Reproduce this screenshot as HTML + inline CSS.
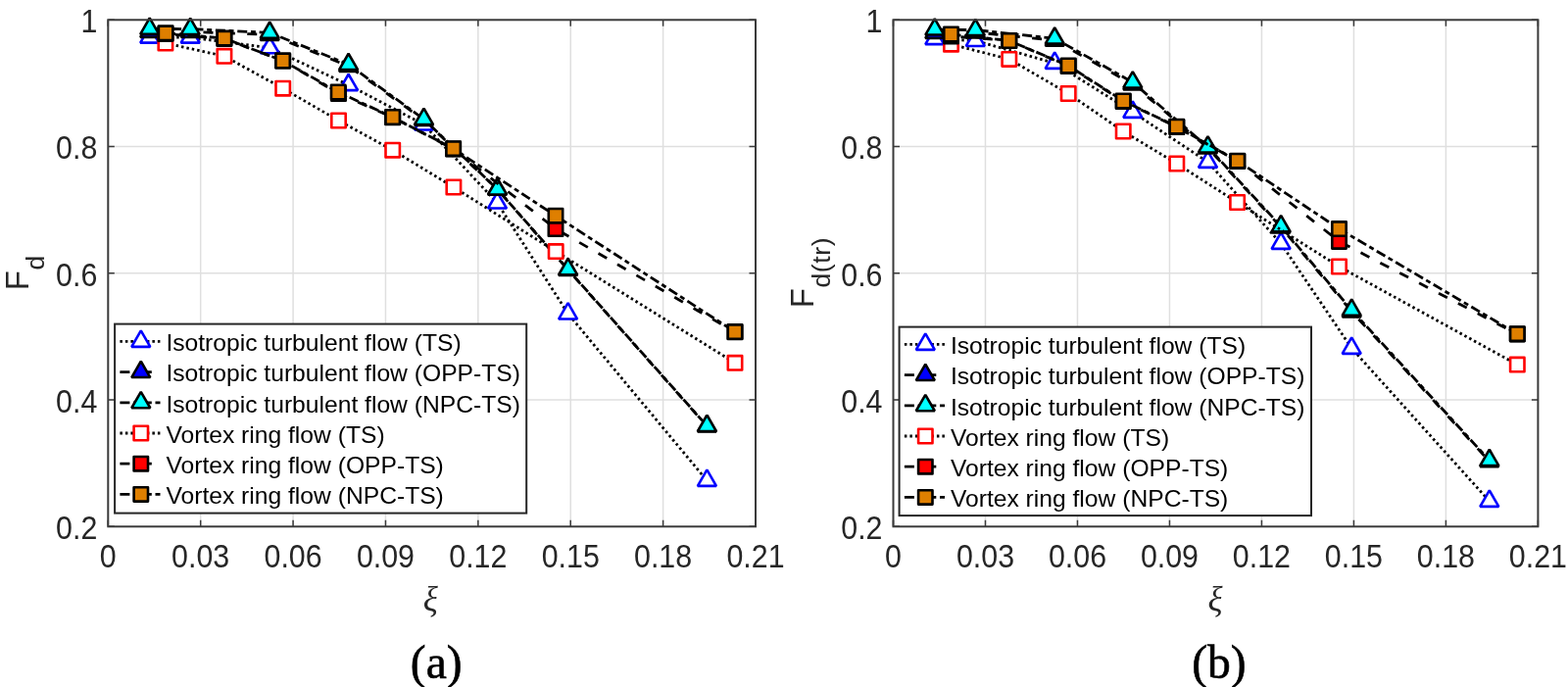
<!DOCTYPE html>
<html><head><meta charset="utf-8"><title>Fd vs xi</title>
<style>html,body{margin:0;padding:0;background:#fff;}svg{display:block;}</style></head>
<body><svg width="1600" height="701" viewBox="0 0 1600 701">
<rect width="1600" height="701" fill="#fff"/>
<path d="M204.69 20.3V537.3M299.07 20.3V537.3M393.46 20.3V537.3M487.84 20.3V537.3M582.23 20.3V537.3M676.61 20.3V537.3M110.3 408.05H771M110.3 278.8H771M110.3 149.55H771" stroke="#dfdfdf" stroke-width="1.5" fill="none"/>
<path d="M152.7 38.2L194.2 38.2L275.2 48.8L355.6 86.7L432.5 127.1L507.5 207.1L579.6 320.1L721.4 490.4" fill="none" stroke="#000" stroke-width="2.8" stroke-dasharray="2.5 3.0" stroke-dashoffset="0"/>
<path d="M152.7 27.27L162.2 43.67L143.2 43.67Z" fill="#fff" stroke="#0000ff" stroke-width="2.6" stroke-linejoin="bevel"/>
<path d="M194.2 27.27L203.7 43.67L184.7 43.67Z" fill="#fff" stroke="#0000ff" stroke-width="2.6" stroke-linejoin="bevel"/>
<path d="M275.2 37.87L284.7 54.27L265.7 54.27Z" fill="#fff" stroke="#0000ff" stroke-width="2.6" stroke-linejoin="bevel"/>
<path d="M355.6 75.77L365.1 92.17L346.1 92.17Z" fill="#fff" stroke="#0000ff" stroke-width="2.6" stroke-linejoin="bevel"/>
<path d="M432.5 116.17L442 132.57L423 132.57Z" fill="#fff" stroke="#0000ff" stroke-width="2.6" stroke-linejoin="bevel"/>
<path d="M507.5 196.17L517 212.57L498 212.57Z" fill="#fff" stroke="#0000ff" stroke-width="2.6" stroke-linejoin="bevel"/>
<path d="M579.6 309.17L589.1 325.57L570.1 325.57Z" fill="#fff" stroke="#0000ff" stroke-width="2.6" stroke-linejoin="bevel"/>
<path d="M721.4 479.47L730.9 495.87L711.9 495.87Z" fill="#fff" stroke="#0000ff" stroke-width="2.6" stroke-linejoin="bevel"/>
<path d="M152.7 32.4L194.2 32.5L275.2 35.4L355.6 67.4L432.5 122.4L507.5 193.2L579.6 275.4L721.4 434.9" fill="none" stroke="#000" stroke-width="2.8" stroke-dasharray="10 12.4" stroke-dashoffset="12.4"/>
<path d="M152.7 21.47L162.2 37.87L143.2 37.87Z" fill="#0000ff" stroke="#000" stroke-width="2.6" stroke-linejoin="bevel"/>
<path d="M194.2 21.57L203.7 37.97L184.7 37.97Z" fill="#0000ff" stroke="#000" stroke-width="2.6" stroke-linejoin="bevel"/>
<path d="M275.2 24.47L284.7 40.87L265.7 40.87Z" fill="#0000ff" stroke="#000" stroke-width="2.6" stroke-linejoin="bevel"/>
<path d="M355.6 56.47L365.1 72.87L346.1 72.87Z" fill="#0000ff" stroke="#000" stroke-width="2.6" stroke-linejoin="bevel"/>
<path d="M432.5 111.47L442 127.87L423 127.87Z" fill="#0000ff" stroke="#000" stroke-width="2.6" stroke-linejoin="bevel"/>
<path d="M507.5 182.27L517 198.67L498 198.67Z" fill="#0000ff" stroke="#000" stroke-width="2.6" stroke-linejoin="bevel"/>
<path d="M579.6 264.47L589.1 280.87L570.1 280.87Z" fill="#0000ff" stroke="#000" stroke-width="2.6" stroke-linejoin="bevel"/>
<path d="M721.4 423.97L730.9 440.37L711.9 440.37Z" fill="#0000ff" stroke="#000" stroke-width="2.6" stroke-linejoin="bevel"/>
<path d="M152.7 29.4L194.2 29.6L275.2 33.4L355.6 65.7L432.5 121.6L507.5 193L579.6 274.9L721.4 434.6" fill="none" stroke="#000" stroke-width="2.8" stroke-dasharray="10 3.7 5 3.7" stroke-dashoffset="0"/>
<path d="M152.7 18.47L162.2 34.87L143.2 34.87Z" fill="#00ffff" stroke="#000" stroke-width="2.6" stroke-linejoin="bevel"/>
<path d="M194.2 18.67L203.7 35.07L184.7 35.07Z" fill="#00ffff" stroke="#000" stroke-width="2.6" stroke-linejoin="bevel"/>
<path d="M275.2 22.47L284.7 38.87L265.7 38.87Z" fill="#00ffff" stroke="#000" stroke-width="2.6" stroke-linejoin="bevel"/>
<path d="M355.6 54.77L365.1 71.17L346.1 71.17Z" fill="#00ffff" stroke="#000" stroke-width="2.6" stroke-linejoin="bevel"/>
<path d="M432.5 110.67L442 127.07L423 127.07Z" fill="#00ffff" stroke="#000" stroke-width="2.6" stroke-linejoin="bevel"/>
<path d="M507.5 182.07L517 198.47L498 198.47Z" fill="#00ffff" stroke="#000" stroke-width="2.6" stroke-linejoin="bevel"/>
<path d="M579.6 263.97L589.1 280.37L570.1 280.37Z" fill="#00ffff" stroke="#000" stroke-width="2.6" stroke-linejoin="bevel"/>
<path d="M721.4 423.67L730.9 440.07L711.9 440.07Z" fill="#00ffff" stroke="#000" stroke-width="2.6" stroke-linejoin="bevel"/>
<path d="M168.9 44L228.9 57.3L288.7 90.2L345.5 123L400.7 153.2L462.9 191L567.2 256.6L750 370.3" fill="none" stroke="#000" stroke-width="2.8" stroke-dasharray="2.5 3.0" stroke-dashoffset="0"/>
<rect x="161.7" y="36.8" width="14.4" height="14.4" fill="#fff" stroke="#ff0000" stroke-width="2.6" stroke-linejoin="round"/>
<rect x="221.7" y="50.1" width="14.4" height="14.4" fill="#fff" stroke="#ff0000" stroke-width="2.6" stroke-linejoin="round"/>
<rect x="281.5" y="83" width="14.4" height="14.4" fill="#fff" stroke="#ff0000" stroke-width="2.6" stroke-linejoin="round"/>
<rect x="338.3" y="115.8" width="14.4" height="14.4" fill="#fff" stroke="#ff0000" stroke-width="2.6" stroke-linejoin="round"/>
<rect x="393.5" y="146" width="14.4" height="14.4" fill="#fff" stroke="#ff0000" stroke-width="2.6" stroke-linejoin="round"/>
<rect x="455.7" y="183.8" width="14.4" height="14.4" fill="#fff" stroke="#ff0000" stroke-width="2.6" stroke-linejoin="round"/>
<rect x="560" y="249.4" width="14.4" height="14.4" fill="#fff" stroke="#ff0000" stroke-width="2.6" stroke-linejoin="round"/>
<rect x="742.8" y="363.1" width="14.4" height="14.4" fill="#fff" stroke="#ff0000" stroke-width="2.6" stroke-linejoin="round"/>
<path d="M168.9 34.6L228.9 39.6L288.7 62L345.5 95.5L400.7 119.8L462.6 152L567 233.5L750 338.8" fill="none" stroke="#000" stroke-width="2.8" stroke-dasharray="10 12.4" stroke-dashoffset="12.4"/>
<rect x="161.7" y="27.4" width="14.4" height="14.4" fill="#ff0000" stroke="#000" stroke-width="2.6" stroke-linejoin="round"/>
<rect x="221.7" y="32.4" width="14.4" height="14.4" fill="#ff0000" stroke="#000" stroke-width="2.6" stroke-linejoin="round"/>
<rect x="281.5" y="54.8" width="14.4" height="14.4" fill="#ff0000" stroke="#000" stroke-width="2.6" stroke-linejoin="round"/>
<rect x="338.3" y="88.3" width="14.4" height="14.4" fill="#ff0000" stroke="#000" stroke-width="2.6" stroke-linejoin="round"/>
<rect x="393.5" y="112.6" width="14.4" height="14.4" fill="#ff0000" stroke="#000" stroke-width="2.6" stroke-linejoin="round"/>
<rect x="455.4" y="144.8" width="14.4" height="14.4" fill="#ff0000" stroke="#000" stroke-width="2.6" stroke-linejoin="round"/>
<rect x="559.8" y="226.3" width="14.4" height="14.4" fill="#ff0000" stroke="#000" stroke-width="2.6" stroke-linejoin="round"/>
<rect x="742.8" y="331.6" width="14.4" height="14.4" fill="#ff0000" stroke="#000" stroke-width="2.6" stroke-linejoin="round"/>
<path d="M169.1 33.8L228.9 39.1L288.6 62L345.2 94L400.7 119.5L462.6 151.7L567 220.2L750 338.6" fill="none" stroke="#000" stroke-width="2.8" stroke-dasharray="10 3.7 5 3.7" stroke-dashoffset="0"/>
<rect x="161.9" y="26.6" width="14.4" height="14.4" fill="#df7f00" stroke="#000" stroke-width="2.6" stroke-linejoin="round"/>
<rect x="221.7" y="31.9" width="14.4" height="14.4" fill="#df7f00" stroke="#000" stroke-width="2.6" stroke-linejoin="round"/>
<rect x="281.4" y="54.8" width="14.4" height="14.4" fill="#df7f00" stroke="#000" stroke-width="2.6" stroke-linejoin="round"/>
<rect x="338" y="86.8" width="14.4" height="14.4" fill="#df7f00" stroke="#000" stroke-width="2.6" stroke-linejoin="round"/>
<rect x="393.5" y="112.3" width="14.4" height="14.4" fill="#df7f00" stroke="#000" stroke-width="2.6" stroke-linejoin="round"/>
<rect x="455.4" y="144.5" width="14.4" height="14.4" fill="#df7f00" stroke="#000" stroke-width="2.6" stroke-linejoin="round"/>
<rect x="559.8" y="213" width="14.4" height="14.4" fill="#df7f00" stroke="#000" stroke-width="2.6" stroke-linejoin="round"/>
<rect x="742.8" y="331.4" width="14.4" height="14.4" fill="#df7f00" stroke="#000" stroke-width="2.6" stroke-linejoin="round"/>
<path d="M110.3 537.3v-6.5M110.3 20.3v6.5M204.69 537.3v-6.5M204.69 20.3v6.5M299.07 537.3v-6.5M299.07 20.3v6.5M393.46 537.3v-6.5M393.46 20.3v6.5M487.84 537.3v-6.5M487.84 20.3v6.5M582.23 537.3v-6.5M582.23 20.3v6.5M676.61 537.3v-6.5M676.61 20.3v6.5M771 537.3v-6.5M771 20.3v6.5M110.3 537.3h6.5M771 537.3h-6.5M110.3 408.05h6.5M771 408.05h-6.5M110.3 278.8h6.5M771 278.8h-6.5M110.3 149.55h6.5M771 149.55h-6.5M110.3 20.3h6.5M771 20.3h-6.5" stroke="#3a3a3a" stroke-width="1.5" fill="none"/>
<rect x="110.3" y="20.3" width="660.7" height="517" fill="none" stroke="#3a3a3a" stroke-width="2"/>
<g font-family="Liberation Sans, Arial, sans-serif" font-size="30.4" fill="#262626"><text transform="translate(110.3 579) scale(1 1.083)" text-anchor="middle">0</text><text transform="translate(204.69 579) scale(1 1.083)" text-anchor="middle">0.03</text><text transform="translate(299.07 579) scale(1 1.083)" text-anchor="middle">0.06</text><text transform="translate(393.46 579) scale(1 1.083)" text-anchor="middle">0.09</text><text transform="translate(487.84 579) scale(1 1.083)" text-anchor="middle">0.12</text><text transform="translate(582.23 579) scale(1 1.083)" text-anchor="middle">0.15</text><text transform="translate(676.61 579) scale(1 1.083)" text-anchor="middle">0.18</text><text transform="translate(771 579) scale(1 1.083)" text-anchor="middle">0.21</text><text transform="translate(99.3 550.1) scale(1 1.083)" text-anchor="end">0.2</text><text transform="translate(99.3 420.85) scale(1 1.083)" text-anchor="end">0.4</text><text transform="translate(99.3 291.6) scale(1 1.083)" text-anchor="end">0.6</text><text transform="translate(99.3 162.35) scale(1 1.083)" text-anchor="end">0.8</text><text transform="translate(99.3 33.1) scale(1 1.083)" text-anchor="end">1</text></g>
<text x="439.25" y="623" font-family="Liberation Serif, serif" font-style="italic" font-size="35" text-anchor="middle" fill="#262626">&#958;</text>
<g font-family="Liberation Sans, Arial, sans-serif" fill="#262626"><text transform="translate(28.9 296.2) rotate(-90)" font-size="33">F</text><text transform="translate(45.3 275.5) rotate(-90)" font-size="26.5">d</text></g>
<text x="445.2" y="692.3" font-family="Liberation Serif, serif" font-size="47.5" text-anchor="middle" fill="#000" stroke="#000" stroke-width="0.6">(a)</text>
<rect x="117.1" y="330.6" width="420.1" height="193" fill="#fff" stroke="#262626" stroke-width="2"/>
<path d="M122.4 348.4H165.1" stroke="#000" stroke-width="2.8" stroke-dasharray="2.5 3.0" fill="none"/>
<path d="M143.8 337.47L153.3 353.87L134.3 353.87Z" fill="#fff" stroke="#0000ff" stroke-width="2.6" stroke-linejoin="bevel"/>
<text x="169.4" y="358.2" font-family="Liberation Sans, Arial, sans-serif" font-size="24.65" fill="#000">Isotropic turbulent flow (TS)</text>
<path d="M122.4 379.6H165.1" stroke="#000" stroke-width="2.8" stroke-dasharray="10 12.4" fill="none"/>
<path d="M143.8 368.67L153.3 385.07L134.3 385.07Z" fill="#0000ff" stroke="#000" stroke-width="2.6" stroke-linejoin="bevel"/>
<text x="169.4" y="389.4" font-family="Liberation Sans, Arial, sans-serif" font-size="24.65" fill="#000">Isotropic turbulent flow (OPP-TS)</text>
<path d="M122.4 410.8H165.1" stroke="#000" stroke-width="2.8" stroke-dasharray="10 3.7 5 3.7" fill="none"/>
<path d="M143.8 399.87L153.3 416.27L134.3 416.27Z" fill="#00ffff" stroke="#000" stroke-width="2.6" stroke-linejoin="bevel"/>
<text x="169.4" y="420.6" font-family="Liberation Sans, Arial, sans-serif" font-size="24.65" fill="#000">Isotropic turbulent flow (NPC-TS)</text>
<path d="M122.4 442H165.1" stroke="#000" stroke-width="2.8" stroke-dasharray="2.5 3.0" fill="none"/>
<rect x="136.6" y="434.8" width="14.4" height="14.4" fill="#fff" stroke="#ff0000" stroke-width="2.6" stroke-linejoin="round"/>
<text x="169.4" y="451.8" font-family="Liberation Sans, Arial, sans-serif" font-size="24.65" fill="#000">Vortex ring flow (TS)</text>
<path d="M122.4 473.2H165.1" stroke="#000" stroke-width="2.8" stroke-dasharray="10 12.4" fill="none"/>
<rect x="136.6" y="466" width="14.4" height="14.4" fill="#ff0000" stroke="#000" stroke-width="2.6" stroke-linejoin="round"/>
<text x="169.4" y="483" font-family="Liberation Sans, Arial, sans-serif" font-size="24.65" fill="#000">Vortex ring flow (OPP-TS)</text>
<path d="M122.4 504.4H165.1" stroke="#000" stroke-width="2.8" stroke-dasharray="10 3.7 5 3.7" fill="none"/>
<rect x="136.6" y="497.2" width="14.4" height="14.4" fill="#df7f00" stroke="#000" stroke-width="2.6" stroke-linejoin="round"/>
<text x="169.4" y="514.2" font-family="Liberation Sans, Arial, sans-serif" font-size="24.65" fill="#000">Vortex ring flow (NPC-TS)</text>
<path d="M1005.49 20.3V537.3M1099.47 20.3V537.3M1193.46 20.3V537.3M1287.44 20.3V537.3M1381.43 20.3V537.3M1475.41 20.3V537.3M911.5 408.05H1569.4M911.5 278.8H1569.4M911.5 149.55H1569.4" stroke="#dfdfdf" stroke-width="1.5" fill="none"/>
<path d="M953.8 39.7L995.3 41.5L1076.2 64.4L1155.8 114.4L1232.5 165.4L1307.1 248.4L1379.2 355.4L1519.8 511.4" fill="none" stroke="#000" stroke-width="2.8" stroke-dasharray="2.5 3.0" stroke-dashoffset="0"/>
<path d="M953.8 28.77L963.3 45.17L944.3 45.17Z" fill="#fff" stroke="#0000ff" stroke-width="2.6" stroke-linejoin="bevel"/>
<path d="M995.3 30.57L1004.8 46.97L985.8 46.97Z" fill="#fff" stroke="#0000ff" stroke-width="2.6" stroke-linejoin="bevel"/>
<path d="M1076.2 53.47L1085.7 69.87L1066.7 69.87Z" fill="#fff" stroke="#0000ff" stroke-width="2.6" stroke-linejoin="bevel"/>
<path d="M1155.8 103.47L1165.3 119.87L1146.3 119.87Z" fill="#fff" stroke="#0000ff" stroke-width="2.6" stroke-linejoin="bevel"/>
<path d="M1232.5 154.47L1242 170.87L1223 170.87Z" fill="#fff" stroke="#0000ff" stroke-width="2.6" stroke-linejoin="bevel"/>
<path d="M1307.1 237.47L1316.6 253.87L1297.6 253.87Z" fill="#fff" stroke="#0000ff" stroke-width="2.6" stroke-linejoin="bevel"/>
<path d="M1379.2 344.47L1388.7 360.87L1369.7 360.87Z" fill="#fff" stroke="#0000ff" stroke-width="2.6" stroke-linejoin="bevel"/>
<path d="M1519.8 500.47L1529.3 516.87L1510.3 516.87Z" fill="#fff" stroke="#0000ff" stroke-width="2.6" stroke-linejoin="bevel"/>
<path d="M953.8 33.4L995.3 32.9L1076.2 41.2L1155.8 86L1232.5 151L1307.1 231.9L1379.2 317.9L1519.8 470.7" fill="none" stroke="#000" stroke-width="2.8" stroke-dasharray="10 12.4" stroke-dashoffset="12.4"/>
<path d="M953.8 22.47L963.3 38.87L944.3 38.87Z" fill="#0000ff" stroke="#000" stroke-width="2.6" stroke-linejoin="bevel"/>
<path d="M995.3 21.97L1004.8 38.37L985.8 38.37Z" fill="#0000ff" stroke="#000" stroke-width="2.6" stroke-linejoin="bevel"/>
<path d="M1076.2 30.27L1085.7 46.67L1066.7 46.67Z" fill="#0000ff" stroke="#000" stroke-width="2.6" stroke-linejoin="bevel"/>
<path d="M1155.8 75.07L1165.3 91.47L1146.3 91.47Z" fill="#0000ff" stroke="#000" stroke-width="2.6" stroke-linejoin="bevel"/>
<path d="M1232.5 140.07L1242 156.47L1223 156.47Z" fill="#0000ff" stroke="#000" stroke-width="2.6" stroke-linejoin="bevel"/>
<path d="M1307.1 220.97L1316.6 237.37L1297.6 237.37Z" fill="#0000ff" stroke="#000" stroke-width="2.6" stroke-linejoin="bevel"/>
<path d="M1379.2 306.97L1388.7 323.37L1369.7 323.37Z" fill="#0000ff" stroke="#000" stroke-width="2.6" stroke-linejoin="bevel"/>
<path d="M1519.8 459.77L1529.3 476.17L1510.3 476.17Z" fill="#0000ff" stroke="#000" stroke-width="2.6" stroke-linejoin="bevel"/>
<path d="M953.8 30.1L995.3 30.6L1076.2 39.2L1155.8 84L1232.5 150L1307.1 230.9L1379.2 316.4L1519.8 469.7" fill="none" stroke="#000" stroke-width="2.8" stroke-dasharray="10 3.7 5 3.7" stroke-dashoffset="0"/>
<path d="M953.8 19.17L963.3 35.57L944.3 35.57Z" fill="#00ffff" stroke="#000" stroke-width="2.6" stroke-linejoin="bevel"/>
<path d="M995.3 19.67L1004.8 36.07L985.8 36.07Z" fill="#00ffff" stroke="#000" stroke-width="2.6" stroke-linejoin="bevel"/>
<path d="M1076.2 28.27L1085.7 44.67L1066.7 44.67Z" fill="#00ffff" stroke="#000" stroke-width="2.6" stroke-linejoin="bevel"/>
<path d="M1155.8 73.07L1165.3 89.47L1146.3 89.47Z" fill="#00ffff" stroke="#000" stroke-width="2.6" stroke-linejoin="bevel"/>
<path d="M1232.5 139.07L1242 155.47L1223 155.47Z" fill="#00ffff" stroke="#000" stroke-width="2.6" stroke-linejoin="bevel"/>
<path d="M1307.1 219.97L1316.6 236.37L1297.6 236.37Z" fill="#00ffff" stroke="#000" stroke-width="2.6" stroke-linejoin="bevel"/>
<path d="M1379.2 305.47L1388.7 321.87L1369.7 321.87Z" fill="#00ffff" stroke="#000" stroke-width="2.6" stroke-linejoin="bevel"/>
<path d="M1519.8 458.77L1529.3 475.17L1510.3 475.17Z" fill="#00ffff" stroke="#000" stroke-width="2.6" stroke-linejoin="bevel"/>
<path d="M970.5 45.2L1029.8 60.4L1090.2 95.5L1146.2 134L1200.8 167L1262.6 206.5L1366.5 272L1548.3 372.1" fill="none" stroke="#000" stroke-width="2.8" stroke-dasharray="2.5 3.0" stroke-dashoffset="0"/>
<rect x="963.3" y="38" width="14.4" height="14.4" fill="#fff" stroke="#ff0000" stroke-width="2.6" stroke-linejoin="round"/>
<rect x="1022.6" y="53.2" width="14.4" height="14.4" fill="#fff" stroke="#ff0000" stroke-width="2.6" stroke-linejoin="round"/>
<rect x="1083" y="88.3" width="14.4" height="14.4" fill="#fff" stroke="#ff0000" stroke-width="2.6" stroke-linejoin="round"/>
<rect x="1139" y="126.8" width="14.4" height="14.4" fill="#fff" stroke="#ff0000" stroke-width="2.6" stroke-linejoin="round"/>
<rect x="1193.6" y="159.8" width="14.4" height="14.4" fill="#fff" stroke="#ff0000" stroke-width="2.6" stroke-linejoin="round"/>
<rect x="1255.4" y="199.3" width="14.4" height="14.4" fill="#fff" stroke="#ff0000" stroke-width="2.6" stroke-linejoin="round"/>
<rect x="1359.3" y="264.8" width="14.4" height="14.4" fill="#fff" stroke="#ff0000" stroke-width="2.6" stroke-linejoin="round"/>
<rect x="1541.1" y="364.9" width="14.4" height="14.4" fill="#fff" stroke="#ff0000" stroke-width="2.6" stroke-linejoin="round"/>
<path d="M970.5 37L1029.8 41.5L1090.2 67.5L1146.2 103.5L1200.8 129.5L1262.8 164.5L1366.5 246.4L1548.3 340.9" fill="none" stroke="#000" stroke-width="2.8" stroke-dasharray="10 12.4" stroke-dashoffset="12.4"/>
<rect x="963.3" y="29.8" width="14.4" height="14.4" fill="#ff0000" stroke="#000" stroke-width="2.6" stroke-linejoin="round"/>
<rect x="1022.6" y="34.3" width="14.4" height="14.4" fill="#ff0000" stroke="#000" stroke-width="2.6" stroke-linejoin="round"/>
<rect x="1083" y="60.3" width="14.4" height="14.4" fill="#ff0000" stroke="#000" stroke-width="2.6" stroke-linejoin="round"/>
<rect x="1139" y="96.3" width="14.4" height="14.4" fill="#ff0000" stroke="#000" stroke-width="2.6" stroke-linejoin="round"/>
<rect x="1193.6" y="122.3" width="14.4" height="14.4" fill="#ff0000" stroke="#000" stroke-width="2.6" stroke-linejoin="round"/>
<rect x="1255.6" y="157.3" width="14.4" height="14.4" fill="#ff0000" stroke="#000" stroke-width="2.6" stroke-linejoin="round"/>
<rect x="1359.3" y="239.2" width="14.4" height="14.4" fill="#ff0000" stroke="#000" stroke-width="2.6" stroke-linejoin="round"/>
<rect x="1541.1" y="333.7" width="14.4" height="14.4" fill="#ff0000" stroke="#000" stroke-width="2.6" stroke-linejoin="round"/>
<path d="M970.5 35L1029.8 41.5L1090.2 67L1146.2 103L1200.8 129.2L1262.8 164.2L1366.5 233.6L1548.3 340.7" fill="none" stroke="#000" stroke-width="2.8" stroke-dasharray="10 3.7 5 3.7" stroke-dashoffset="0"/>
<rect x="963.3" y="27.8" width="14.4" height="14.4" fill="#df7f00" stroke="#000" stroke-width="2.6" stroke-linejoin="round"/>
<rect x="1022.6" y="34.3" width="14.4" height="14.4" fill="#df7f00" stroke="#000" stroke-width="2.6" stroke-linejoin="round"/>
<rect x="1083" y="59.8" width="14.4" height="14.4" fill="#df7f00" stroke="#000" stroke-width="2.6" stroke-linejoin="round"/>
<rect x="1139" y="95.8" width="14.4" height="14.4" fill="#df7f00" stroke="#000" stroke-width="2.6" stroke-linejoin="round"/>
<rect x="1193.6" y="122" width="14.4" height="14.4" fill="#df7f00" stroke="#000" stroke-width="2.6" stroke-linejoin="round"/>
<rect x="1255.6" y="157" width="14.4" height="14.4" fill="#df7f00" stroke="#000" stroke-width="2.6" stroke-linejoin="round"/>
<rect x="1359.3" y="226.4" width="14.4" height="14.4" fill="#df7f00" stroke="#000" stroke-width="2.6" stroke-linejoin="round"/>
<rect x="1541.1" y="333.5" width="14.4" height="14.4" fill="#df7f00" stroke="#000" stroke-width="2.6" stroke-linejoin="round"/>
<path d="M911.5 537.3v-6.5M911.5 20.3v6.5M1005.49 537.3v-6.5M1005.49 20.3v6.5M1099.47 537.3v-6.5M1099.47 20.3v6.5M1193.46 537.3v-6.5M1193.46 20.3v6.5M1287.44 537.3v-6.5M1287.44 20.3v6.5M1381.43 537.3v-6.5M1381.43 20.3v6.5M1475.41 537.3v-6.5M1475.41 20.3v6.5M1569.4 537.3v-6.5M1569.4 20.3v6.5M911.5 537.3h6.5M1569.4 537.3h-6.5M911.5 408.05h6.5M1569.4 408.05h-6.5M911.5 278.8h6.5M1569.4 278.8h-6.5M911.5 149.55h6.5M1569.4 149.55h-6.5M911.5 20.3h6.5M1569.4 20.3h-6.5" stroke="#3a3a3a" stroke-width="1.5" fill="none"/>
<rect x="911.5" y="20.3" width="657.9" height="517" fill="none" stroke="#3a3a3a" stroke-width="2"/>
<g font-family="Liberation Sans, Arial, sans-serif" font-size="30.4" fill="#262626"><text transform="translate(911.5 579) scale(1 1.083)" text-anchor="middle">0</text><text transform="translate(1005.49 579) scale(1 1.083)" text-anchor="middle">0.03</text><text transform="translate(1099.47 579) scale(1 1.083)" text-anchor="middle">0.06</text><text transform="translate(1193.46 579) scale(1 1.083)" text-anchor="middle">0.09</text><text transform="translate(1287.44 579) scale(1 1.083)" text-anchor="middle">0.12</text><text transform="translate(1381.43 579) scale(1 1.083)" text-anchor="middle">0.15</text><text transform="translate(1475.41 579) scale(1 1.083)" text-anchor="middle">0.18</text><text transform="translate(1569.4 579) scale(1 1.083)" text-anchor="middle">0.21</text><text transform="translate(900.5 550.1) scale(1 1.083)" text-anchor="end">0.2</text><text transform="translate(900.5 420.85) scale(1 1.083)" text-anchor="end">0.4</text><text transform="translate(900.5 291.6) scale(1 1.083)" text-anchor="end">0.6</text><text transform="translate(900.5 162.35) scale(1 1.083)" text-anchor="end">0.8</text><text transform="translate(900.5 33.1) scale(1 1.083)" text-anchor="end">1</text></g>
<text x="1240.05" y="623" font-family="Liberation Serif, serif" font-style="italic" font-size="35" text-anchor="middle" fill="#262626">&#958;</text>
<g font-family="Liberation Sans, Arial, sans-serif" fill="#262626"><text transform="translate(830.2 314.3) rotate(-90)" font-size="33">F</text><text transform="translate(846.5 293.5) rotate(-90)" font-size="26.5" letter-spacing="0.6">d(tr)</text></g>
<text x="1244" y="692.3" font-family="Liberation Serif, serif" font-size="47.5" text-anchor="middle" fill="#000" stroke="#000" stroke-width="0.6">(b)</text>
<rect x="917.6" y="333.6" width="420.4" height="192.5" fill="#fff" stroke="#262626" stroke-width="2"/>
<path d="M922.9 351.4H965.6" stroke="#000" stroke-width="2.8" stroke-dasharray="2.5 3.0" fill="none"/>
<path d="M944.3 340.47L953.8 356.87L934.8 356.87Z" fill="#fff" stroke="#0000ff" stroke-width="2.6" stroke-linejoin="bevel"/>
<text x="969.9" y="361.2" font-family="Liberation Sans, Arial, sans-serif" font-size="24.65" fill="#000">Isotropic turbulent flow (TS)</text>
<path d="M922.9 382.6H965.6" stroke="#000" stroke-width="2.8" stroke-dasharray="10 12.4" fill="none"/>
<path d="M944.3 371.67L953.8 388.07L934.8 388.07Z" fill="#0000ff" stroke="#000" stroke-width="2.6" stroke-linejoin="bevel"/>
<text x="969.9" y="392.4" font-family="Liberation Sans, Arial, sans-serif" font-size="24.65" fill="#000">Isotropic turbulent flow (OPP-TS)</text>
<path d="M922.9 413.8H965.6" stroke="#000" stroke-width="2.8" stroke-dasharray="10 3.7 5 3.7" fill="none"/>
<path d="M944.3 402.87L953.8 419.27L934.8 419.27Z" fill="#00ffff" stroke="#000" stroke-width="2.6" stroke-linejoin="bevel"/>
<text x="969.9" y="423.6" font-family="Liberation Sans, Arial, sans-serif" font-size="24.65" fill="#000">Isotropic turbulent flow (NPC-TS)</text>
<path d="M922.9 445H965.6" stroke="#000" stroke-width="2.8" stroke-dasharray="2.5 3.0" fill="none"/>
<rect x="937.1" y="437.8" width="14.4" height="14.4" fill="#fff" stroke="#ff0000" stroke-width="2.6" stroke-linejoin="round"/>
<text x="969.9" y="454.8" font-family="Liberation Sans, Arial, sans-serif" font-size="24.65" fill="#000">Vortex ring flow (TS)</text>
<path d="M922.9 476.2H965.6" stroke="#000" stroke-width="2.8" stroke-dasharray="10 12.4" fill="none"/>
<rect x="937.1" y="469" width="14.4" height="14.4" fill="#ff0000" stroke="#000" stroke-width="2.6" stroke-linejoin="round"/>
<text x="969.9" y="486" font-family="Liberation Sans, Arial, sans-serif" font-size="24.65" fill="#000">Vortex ring flow (OPP-TS)</text>
<path d="M922.9 507.4H965.6" stroke="#000" stroke-width="2.8" stroke-dasharray="10 3.7 5 3.7" fill="none"/>
<rect x="937.1" y="500.2" width="14.4" height="14.4" fill="#df7f00" stroke="#000" stroke-width="2.6" stroke-linejoin="round"/>
<text x="969.9" y="517.2" font-family="Liberation Sans, Arial, sans-serif" font-size="24.65" fill="#000">Vortex ring flow (NPC-TS)</text>
</svg></body></html>
